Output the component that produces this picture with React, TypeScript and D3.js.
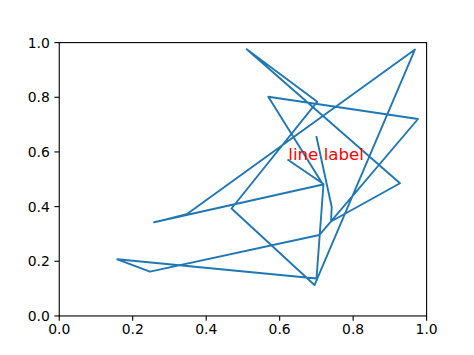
import React from "react";
import * as d3 from "d3";

const xs = [0.6235, 0.7193, 0.7003, 0.158, 0.247, 0.7079, 0.9766, 0.5691, 0.718, 0.2579, 0.3469, 0.9684, 0.6948, 0.4689, 0.7025, 0.5103, 0.9276, 0.7398, 0.7417, 0.7003];
const ys = [0.5705, 0.4827, 0.137, 0.2072, 0.1619, 0.2961, 0.7205, 0.8021, 0.4809, 0.3426, 0.3719, 0.9748, 0.1132, 0.3931, 0.7838, 0.9755, 0.4853, 0.3455, 0.3986, 0.6547];
const ticks = [0, 0.2, 0.4, 0.6, 0.8, 1.0];
const labelText = "line label";

export default function App() {
  const W = 474, H = 355;
  const left = 59.25, right = 426.6, top = 42.6, bottom = 315.95;
  const x = d3.scaleLinear().domain([0, 1]).range([left, right]);
  const y = d3.scaleLinear().domain([0, 1]).range([bottom, top]);
  const pts = xs.map((v, i) => [v, ys[i]] as [number, number]);
  const line = d3.line<[number, number]>().x(d => x(d[0])).y(d => y(d[1]));
  const font = "DejaVu Sans, sans-serif";
  return (
    <svg width={W} height={H} style={{ position: "absolute", left: 0, top: 0 }}>
      <rect width={W} height={H} fill="white" />
      <path d={line(pts) || ""} fill="none" stroke="#1f77b4" strokeWidth={1.9} strokeLinejoin="round" strokeLinecap="square" />
      <text x={x(xs[0])} y={y(ys[0])} fill="red" fontFamily={font} fontSize={16.67}>{labelText}</text>
      <rect x={left} y={top} width={right - left} height={bottom - top} fill="none" stroke="black" strokeWidth={1.1} />
      {ticks.map(t => (
        <g key={"x" + t}>
          <line x1={x(t)} x2={x(t)} y1={bottom} y2={bottom + 4.86} stroke="black" strokeWidth={1.1} />
          <text x={x(t)} y={bottom + 18.5} textAnchor="middle" fontFamily={font} fontSize={13.9}>{t.toFixed(1)}</text>
        </g>
      ))}
      {ticks.map(t => (
        <g key={"y" + t}>
          <line x1={left} x2={left - 4.86} y1={y(t)} y2={y(t)} stroke="black" strokeWidth={1.1} />
          <text x={left - 9.5} y={y(t)} dy="0.36em" textAnchor="end" fontFamily={font} fontSize={13.9}>{t.toFixed(1)}</text>
        </g>
      ))}
    </svg>
  );
}
